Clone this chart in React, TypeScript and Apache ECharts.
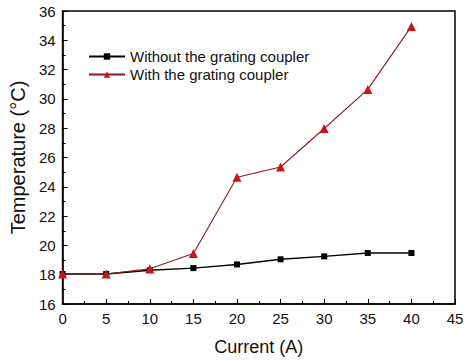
import React, { useEffect, useRef } from "react";
import * as echarts from "echarts";

const currents = [0, 5, 10, 15, 20, 25, 30, 35, 40];
const withoutCoupler = [18.05, 18.05, 18.3, 18.45, 18.7, 19.05, 19.25, 19.48, 19.48];
const withCoupler = [18.05, 18.05, 18.4, 19.45, 24.65, 25.35, 27.98, 30.65, 34.95];
const seriesNames = ["Without the grating coupler", "With the grating coupler"];

const FONT = "Liberation Sans, Arial, sans-serif";

export default function App() {
  const ref = useRef<HTMLDivElement>(null);
  useEffect(() => {
    document.body.style.margin = "0";
    if (!ref.current) return;
    const chart = echarts.init(ref.current, null, { renderer: "svg" });
    chart.setOption({
      animation: false,
      backgroundColor: "#ffffff",
      grid: {
        left: 60,
        right: 19,
        top: 11,
        bottom: 57,
        show: true,
        borderColor: "#000",
        borderWidth: 1.5,
      },
      legend: {
        orient: "vertical",
        left: 88,
        top: 49,
        padding: 0,
        itemWidth: 36,
        itemHeight: 8,
        itemGap: 3,
        textStyle: { fontFamily: FONT, fontSize: 15, lineHeight: 15, color: "#111" },
        data: seriesNames,
      },
      xAxis: {
        type: "value",
        min: 0,
        max: 45,
        interval: 5,
        name: "Current (A)",
        nameLocation: "middle",
        nameGap: 34,
        nameTextStyle: { fontFamily: FONT, fontSize: 18, color: "#111" },
        axisLine: { lineStyle: { color: "#000", width: 1.5 } },
        axisTick: { inside: true, length: 5, lineStyle: { color: "#000" } },
        minorTick: { show: true, splitNumber: 2, length: 3, lineStyle: { color: "#000" } },
        axisLabel: { fontFamily: FONT, fontSize: 15, color: "#111", margin: 7 },
        splitLine: { show: false },
      },
      yAxis: {
        type: "value",
        min: 16,
        max: 36,
        interval: 2,
        name: "Temperature (°C)",
        nameLocation: "middle",
        nameGap: 34,
        nameTextStyle: { fontFamily: FONT, fontSize: 20, color: "#111" },
        axisLine: { show: true, lineStyle: { color: "#000", width: 1.5 } },
        axisTick: { show: true, inside: true, length: 5, lineStyle: { color: "#000" } },
        minorTick: { show: true, splitNumber: 2, length: 3, lineStyle: { color: "#000" } },
        axisLabel: { fontFamily: FONT, fontSize: 15, color: "#111", margin: 7 },
        splitLine: { show: false },
      },
      series: [
        {
          name: seriesNames[0],
          type: "line",
          data: currents.map((c, i) => [c, withoutCoupler[i]]),
          symbol: "rect",
          symbolSize: 6,
          itemStyle: { color: "#000" },
          lineStyle: { color: "#000", width: 1.4 },
        },
        {
          name: seriesNames[1],
          type: "line",
          data: currents.map((c, i) => [c, withCoupler[i]]),
          symbol: "triangle",
          symbolSize: 9,
          itemStyle: { color: "#cc1418" },
          lineStyle: { color: "#8a1a1e", width: 1.1 },
        },
      ],
    });
    return () => chart.dispose();
  }, []);
  return <div ref={ref} style={{ width: 474, height: 361 }} />;
}
